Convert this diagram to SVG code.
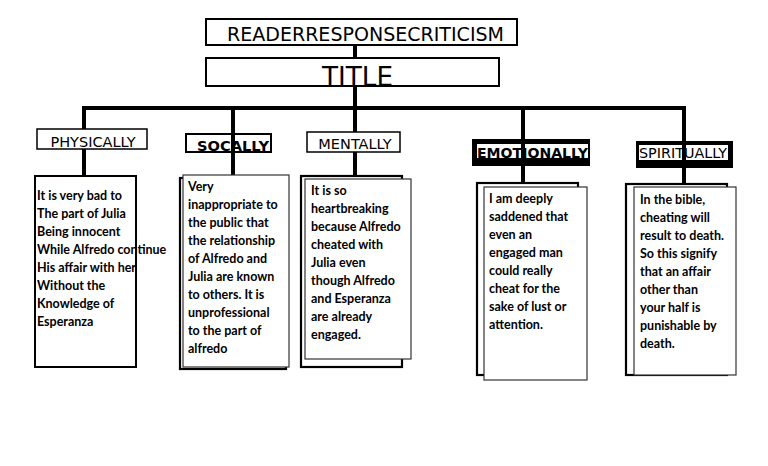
<svg xmlns="http://www.w3.org/2000/svg" width="768" height="466" viewBox="0 0 768 466">
<style>
.hdr{fill:#fff;stroke:#000;stroke-width:2}
.lbl{font-family:"DejaVu Sans",sans-serif;font-size:14.5px;fill:#000}
.b{font-weight:bold}
.back{fill:#fff;stroke:#000;stroke-width:2.2}
.front{fill:#fff;stroke:#333;stroke-width:1.2}
.body{font-family:Lato,"Liberation Sans",sans-serif;font-size:12.5px;font-weight:bold;fill:#000}
.con{stroke:#000;stroke-width:4;fill:none}
</style>
<rect width="768" height="466" fill="#fff"/>
<g id="header">
<rect class="hdr" x="206" y="19" width="311" height="26"/>
<text x="227" y="41" font-family="DejaVu Sans,sans-serif" font-size="19" textLength="277" lengthAdjust="spacingAndGlyphs">READERRESPONSECRITICISM</text>
</g>
<g id="title">
<rect class="hdr" x="206" y="58" width="293" height="28"/>
<text x="322" y="86" font-family="DejaVu Sans,sans-serif" font-size="26" textLength="71" lengthAdjust="spacingAndGlyphs">TITLE</text>
</g>
<g id="connectors">
<line class="con" x1="355" y1="45" x2="355" y2="58"/>
<line class="con" x1="355" y1="86" x2="355" y2="108"/>
<polyline class="con" points="84,129 84,108 684,108 684,141"/>
<line class="con" x1="84" y1="149" x2="84" y2="175"/>
<line class="con" x1="233" y1="108" x2="233" y2="134"/>
<line class="con" x1="355" y1="108" x2="355" y2="132"/>
<line class="con" x1="355" y1="152" x2="355" y2="175"/>
<line class="con" x1="523" y1="108" x2="523" y2="139"/>
</g>
<g id="physically">
<rect x="37" y="129" width="110" height="20" fill="#fff" stroke="#000" stroke-width="1.5"/>
<text class="lbl" x="93" y="147" text-anchor="middle">PHYSICALLY</text>
</g>
<g id="socally">
<rect x="186" y="134" width="85" height="18" fill="#fff" stroke="#000" stroke-width="2"/>
<text class="lbl b" x="233" y="150.5" text-anchor="middle" textLength="72" lengthAdjust="spacingAndGlyphs">SOCALLY</text>
<line class="con" x1="233" y1="134" x2="233" y2="175"/>
</g>
<g id="mentally">
<rect x="307" y="132" width="93" height="20" fill="#fff" stroke="#000" stroke-width="1.5"/>
<text class="lbl" x="355" y="149" text-anchor="middle">MENTALLY</text>
</g>
<g id="emotionally">
<rect x="472" y="139" width="118" height="27" fill="#000"/>
<rect x="477" y="144" width="111" height="14" fill="#fff"/>
<text class="lbl b" x="477" y="158" textLength="111" lengthAdjust="spacingAndGlyphs">EMOTIONALLY</text>
<line class="con" x1="523" y1="139" x2="523" y2="183"/>
</g>
<g id="spiritually">
<rect x="636" y="141" width="97" height="27" fill="#000"/>
<rect x="639" y="145" width="89" height="15" fill="#fff"/>
<text class="lbl" x="639" y="158" textLength="88" lengthAdjust="spacingAndGlyphs">SPIRITUALLY</text>
<line class="con" x1="684" y1="141" x2="684" y2="187"/>
</g>
<g id="text-physically">
<rect x="35" y="176" width="101" height="191" fill="#fff" stroke="#000" stroke-width="2"/>
<text class="body">
<tspan x="37" y="200">It is very bad to</tspan>
<tspan x="37" y="218">The part of Julia</tspan>
<tspan x="37" y="236">Being innocent</tspan>
<tspan x="37" y="254">While Alfredo continue</tspan>
<tspan x="37" y="272">His affair with her</tspan>
<tspan x="37" y="290">Without the</tspan>
<tspan x="37" y="308">Knowledge of</tspan>
<tspan x="37" y="326">Esperanza</tspan>
</text>
</g>
<g id="text-socally">
<rect class="back" x="180" y="178" width="106" height="191"/>
<rect class="front" x="183" y="175" width="106" height="192"/>
<text class="body">
<tspan x="188" y="191">Very</tspan>
<tspan x="188" y="209">inappropriate to</tspan>
<tspan x="188" y="227">the public that</tspan>
<tspan x="188" y="245">the relationship</tspan>
<tspan x="188" y="263">of Alfredo and</tspan>
<tspan x="188" y="281">Julia are known</tspan>
<tspan x="188" y="299">to others. It is</tspan>
<tspan x="188" y="317">unprofessional</tspan>
<tspan x="188" y="335">to the part of</tspan>
<tspan x="188" y="353">alfredo</tspan>
</text>
</g>
<g id="text-mentally">
<rect class="back" x="301" y="176" width="101" height="191"/>
<rect class="front" x="305" y="179" width="106" height="180"/>
<text class="body">
<tspan x="311" y="195">It is so</tspan>
<tspan x="311" y="213">heartbreaking</tspan>
<tspan x="311" y="231">because Alfredo</tspan>
<tspan x="311" y="249">cheated with</tspan>
<tspan x="311" y="267">Julia even</tspan>
<tspan x="311" y="285">though Alfredo</tspan>
<tspan x="311" y="303">and Esperanza</tspan>
<tspan x="311" y="321">are already</tspan>
<tspan x="311" y="339">engaged.</tspan>
</text>
</g>
<g id="text-emotionally">
<rect class="back" x="477" y="183" width="101" height="192"/>
<rect class="front" x="484" y="187" width="103" height="193"/>
<text class="body">
<tspan x="489" y="203">I am deeply</tspan>
<tspan x="489" y="221">saddened that</tspan>
<tspan x="489" y="239">even an</tspan>
<tspan x="489" y="257">engaged man</tspan>
<tspan x="489" y="275">could really</tspan>
<tspan x="489" y="293">cheat for the</tspan>
<tspan x="489" y="311">sake of lust or</tspan>
<tspan x="489" y="329">attention.</tspan>
</text>
</g>
<g id="text-spiritually">
<rect class="back" x="626" y="184" width="101" height="191"/>
<rect class="front" x="634" y="187" width="102" height="188"/>
<text class="body">
<tspan x="640" y="204">In the bible,</tspan>
<tspan x="640" y="222">cheating will</tspan>
<tspan x="640" y="240">result to death.</tspan>
<tspan x="640" y="258">So this signify</tspan>
<tspan x="640" y="276">that an affair</tspan>
<tspan x="640" y="294">other than</tspan>
<tspan x="640" y="312">your half is</tspan>
<tspan x="640" y="330">punishable by</tspan>
<tspan x="640" y="348">death.</tspan>
</text>
</g>
</svg>
